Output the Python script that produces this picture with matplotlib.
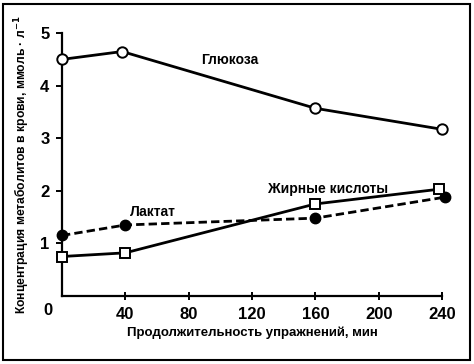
# Концентрация метаболитов в крови при длительной нагрузке
import matplotlib.pyplot as plt
from matplotlib.patches import Rectangle

plt.rcParams['font.family'] = ['Liberation Sans', 'DejaVu Sans']
plt.rcParams['font.weight'] = 'bold'
plt.rcParams['axes.labelweight'] = 'bold'
plt.rcParams['mathtext.default'] = 'bf'

t_glu = [0, 38, 160, 240]
glu = [4.5, 4.65, 3.57, 3.17]
t_fa = [0, 40, 160, 238]
fa = [0.75, 0.82, 1.75, 2.03]
t_lac = [0, 40, 160, 242]
lac = [1.15, 1.35, 1.48, 1.88]
xticks = [40, 80, 120, 160, 200, 240]
yticks = [1, 2, 3, 4, 5]

fig = plt.figure(figsize=(4.74, 3.64), dpi=100)
ax = fig.add_axes([0.1308, 0.187, 0.8017, 0.722])

ax.plot(t_glu, glu, 'k-', lw=2, marker='o', ms=7.5, mfc='white', mec='k', mew=1.4, clip_on=False, zorder=3)
ax.plot(t_lac, lac, 'k--', lw=2, dashes=(3, 1.5), marker='o', ms=7.5, mfc='k', mec='k', clip_on=False, zorder=3)
ax.plot(t_fa, fa, 'k-', lw=2, marker='s', ms=7.5, mfc='white', mec='k', mew=1.4, clip_on=False, zorder=4)

ax.text(88, 4.49, 'Глюкоза', fontsize=10, va='center')
ax.text(130, 2.04, 'Жирные кислоты', fontsize=10, va='center')
ax.text(43, 1.6, 'Лактат', fontsize=10, va='center')

ax.set_xlim(0, 240)
ax.set_ylim(0, 5)
ax.set_xticks(xticks)
ax.set_yticks(yticks)
ax.tick_params(axis='x', direction='inout', length=6, width=1.4, labelsize=12, pad=5)
ax.tick_params(axis='y', direction='out', length=4, width=1.4, labelsize=12, pad=5)
ax.text(-9, -0.27, '0', fontsize=12, ha='center', va='center')
ax.spines['right'].set_color('none')
ax.spines['top'].set_color('none')
ax.spines['left'].set_linewidth(1.6)
ax.spines['bottom'].set_linewidth(1.6)

ax.set_xlabel('Продолжительность упражнений, мин', fontsize=9.5, labelpad=3)
ax.set_ylabel(r'Концентрация метаболитов в крови, ммоль · л$^{-1}$', fontsize=8.7, labelpad=6)

fig.patches.append(Rectangle((0.006, 0.012), 0.986, 0.978, transform=fig.transFigure,
                             fill=False, ec='k', lw=1.5))
fig.savefig('out.png', dpi=100)
